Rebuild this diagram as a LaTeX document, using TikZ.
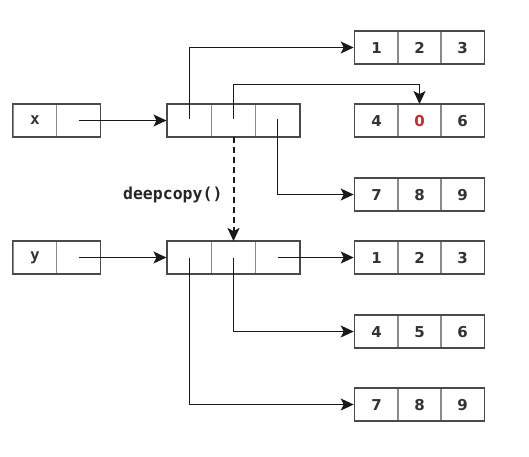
\documentclass[tikz,border=0pt]{standalone}
\usepackage{fontspec}
\setmainfont{DejaVu Sans}
\newfontfamily\monof{DejaVu Sans Mono}
\usetikzlibrary{arrows.meta,fit}
\definecolor{boxc}{HTML}{4A4A4A}
\definecolor{divc}{HTML}{8A8A8A}
\definecolor{redc}{HTML}{C62828}
\tikzset{
  cell/.style={draw=divc, line width=0.9pt, minimum width=43.5pt, minimum height=32pt, inner sep=0pt, font=\bfseries\fontsize{15}{15}\selectfont, text=black!80, text height=11pt, text depth=0pt},
  mcell/.style={cell, minimum width=44pt},
  frame/.style={draw=boxc, line width=1.2pt, inner sep=0pt},
  conn/.style={line width=1.5pt, draw=black!90, -{Stealth[length=13pt,width=12pt,inset=3pt]}},
  lbl/.style={font=\monof\bfseries\fontsize{16.5}{16.5}\selectfont, text=black!85},
  var/.style={cell, font=\monof\bfseries\fontsize{16}{16}\selectfont, text height=8.5pt}
}
\begin{document}
\begin{tikzpicture}[x=1pt,y=-1pt]
\useasboundingbox (0,0) rectangle (529,456);
% x box
\node[var] (xb1) at (35,120.5) {x};
\node[cell] (xb2) at (78.5,120.5) {};
\node[frame, fit=(xb1)(xb2)] (xb) {};
% y box
\node[var, text depth=3.5pt, text height=8.5pt] (yb1) at (35,257.5) {y};
\node[cell] (yb2) at (78.5,257.5) {};
\node[frame, fit=(yb1)(yb2)] (yb) {};
% top middle
\node[mcell] (m1) at (189.5,120.5) {};
\node[mcell] (m2) at (233.5,120.5) {};
\node[mcell] (m3) at (277.5,120.5) {};
\node[frame, fit=(m1)(m3)] (m) {};
% bottom middle
\node[mcell] (n1) at (189.5,257.5) {};
\node[mcell] (n2) at (233.5,257.5) {};
\node[mcell] (n3) at (277.5,257.5) {};
\node[frame, fit=(n1)(n3)] (n) {};
% right lists top
\node[cell] (a1) at (376.5,47.5) {1};
\node[cell] (a2) at (419.5,47.5) {2};
\node[cell] (a3) at (462.5,47.5) {3};
\node[frame, fit=(a1)(a3)] (a) {};
\node[cell] (b1) at (376.5,120.5) {4};
\node[cell, text=redc] (b2) at (419.5,120.5) {0};
\node[cell] (b3) at (462.5,120.5) {6};
\node[frame, fit=(b1)(b3)] (b) {};
\node[cell] (c1) at (376.5,194.5) {7};
\node[cell] (c2) at (419.5,194.5) {8};
\node[cell] (c3) at (462.5,194.5) {9};
\node[frame, fit=(c1)(c3)] (c) {};
% right lists bottom
\node[cell] (d1) at (376.5,257.5) {1};
\node[cell] (d2) at (419.5,257.5) {2};
\node[cell] (d3) at (462.5,257.5) {3};
\node[frame, fit=(d1)(d3)] (d) {};
\node[cell] (e1) at (376.5,331.5) {4};
\node[cell] (e2) at (419.5,331.5) {5};
\node[cell] (e3) at (462.5,331.5) {6};
\node[frame, fit=(e1)(e3)] (e) {};
\node[cell] (f1) at (376.5,404.5) {7};
\node[cell] (f2) at (419.5,404.5) {8};
\node[cell] (f3) at (462.5,404.5) {9};
\node[frame, fit=(f1)(f3)] (f) {};
% connectors top
\draw[conn] (xb2.center) -- (m.west |- xb2.center);
\draw[conn] ([yshift=2pt]m1.center) |- (a.west);
\coordinate (bend) at (233.5,84.5);
\draw[conn] ([yshift=2pt]m2.center) -- (bend) -| (b2.north);
\draw[conn] ([yshift=2pt]m3.center) |- (c.west);
% deepcopy
\draw[conn, line width=2pt, dash pattern=on 6pt off 4pt] (m2.south) -- (n2.north);
\node[lbl, anchor=east] (dc) at (226,194.5) {deepcopy()};
% connectors bottom
\draw[conn] (yb2.center) -- (n.west |- yb2.center);
\draw[conn] (n3.center) -- (d.west);
\draw[conn] (n2.center) |- (e.west);
\draw[conn] (n1.center) |- (f.west);
\end{tikzpicture}
\end{document}
